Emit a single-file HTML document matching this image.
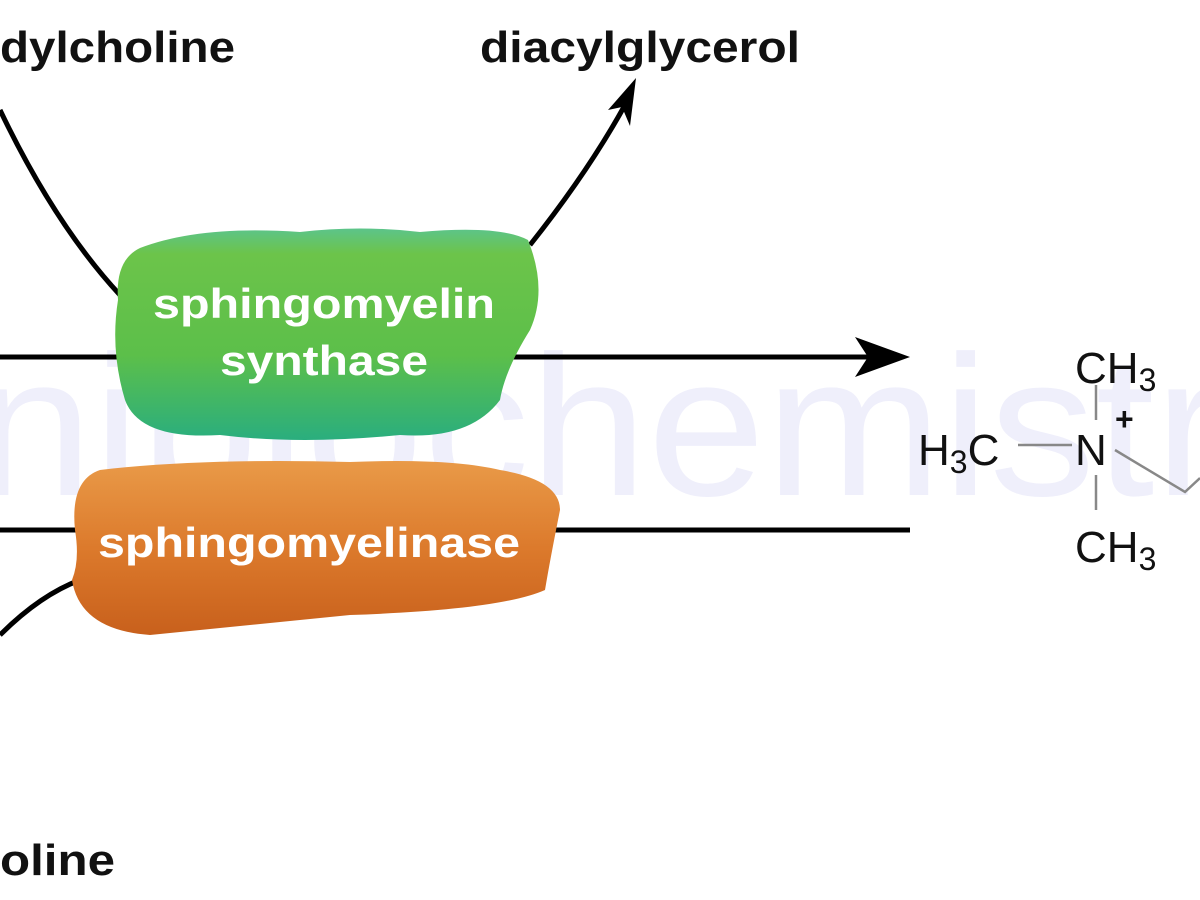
<!DOCTYPE html>
<html><head><meta charset="utf-8"><style>html,body{margin:0;padding:0;background:#fff;}svg{display:block;}</style></head>
<body>
<svg width="1200" height="900" viewBox="0 0 1200 900" xmlns="http://www.w3.org/2000/svg">
<defs>
<linearGradient id="g" x1="0" y1="0" x2="0" y2="1">
<stop offset="0" stop-color="#5cc48a"/><stop offset="0.12" stop-color="#6cc44a"/><stop offset="0.6" stop-color="#5cbf4a"/><stop offset="1" stop-color="#2aae7e"/></linearGradient>
<linearGradient id="o" x1="0" y1="0" x2="0" y2="1">
<stop offset="0" stop-color="#e99a48"/><stop offset="0.5" stop-color="#dc7a2c"/><stop offset="1" stop-color="#c8601c"/></linearGradient>
</defs>
<text x="-25" y="495" font-family="Liberation Sans, sans-serif" font-size="200" fill="#efeffb" textLength="1250" lengthAdjust="spacingAndGlyphs">nibiochemistr</text>
<g stroke="#000" stroke-width="5" fill="none">
<path d="M0 110 Q55 225 120 295"/>
<path d="M530 245 Q588 172 625 105"/>
<path d="M0 357 L870 357"/>
<path d="M0 530 L910 530"/>
<path d="M0 635 Q40 595 80 580"/>
</g>
<polygon points="910,357 855,337 868,357 855,377" fill="#000"/>
<polygon points="636,78 608,110 622,107 630,126" fill="#000"/>
<path d="M140 248 Q200 225 300 232 Q360 225 420 232 Q500 225 528 240 Q548 290 530 330 Q505 370 500 400 Q470 440 400 435 Q300 445 220 435 Q140 440 125 400 Q110 350 118 300 Q115 260 140 248Z" fill="url(#g)"/>
<path d="M100 470 Q200 458 350 462 Q450 458 500 470 Q560 480 560 510 Q550 560 545 590 Q500 610 350 615 Q250 625 150 635 Q80 630 72 580 Q80 560 75 530 Q70 480 100 470Z" fill="url(#o)"/>
<g font-family="Liberation Sans, sans-serif" font-weight="bold" fill="#fff" font-size="42">
<text x="153" y="318" textLength="342" lengthAdjust="spacingAndGlyphs">sphingomyelin</text>
<text x="220" y="375" textLength="208" lengthAdjust="spacingAndGlyphs">synthase</text>
<text x="98" y="557" textLength="422" lengthAdjust="spacingAndGlyphs">sphingomyelinase</text>
</g>
<g font-family="Liberation Sans, sans-serif" font-weight="bold" fill="#111" font-size="44">
<text x="0" y="62" textLength="235" lengthAdjust="spacingAndGlyphs">dylcholine</text>
<text x="480" y="62" textLength="320" lengthAdjust="spacingAndGlyphs">diacylglycerol</text>
<text x="0" y="875" textLength="115" lengthAdjust="spacingAndGlyphs">oline</text>
</g>
<g stroke="#888" stroke-width="2.5" fill="none">
<line x1="1096" y1="385" x2="1096" y2="420"/>
<line x1="1096" y1="475" x2="1096" y2="510"/>
<line x1="1018" y1="445" x2="1072" y2="445"/>
<path d="M1115 450 L1185 492 L1200 478"/>
</g>
<g font-family="Liberation Sans, sans-serif" fill="#111" font-size="44">
<text x="1075" y="383">CH<tspan font-size="32" dy="8">3</tspan></text>
<text x="918" y="465">H<tspan font-size="32" dy="8">3</tspan><tspan dy="-8">C</tspan></text>
<text x="1075" y="465">N</text>
<text x="1115" y="430" font-size="32" font-weight="bold">+</text>
<text x="1075" y="562">CH<tspan font-size="32" dy="8">3</tspan></text>
</g>
</svg>
</body></html>
